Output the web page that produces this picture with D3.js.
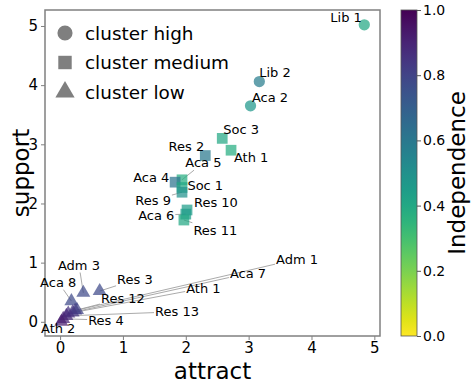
<!DOCTYPE html>
<html>
<head>
<meta charset="utf-8">
<script src="https://cdn.jsdelivr.net/npm/d3@7"></script>
<style>
  body { margin: 0; background: white; }
  text { font-family: "DejaVu Sans", sans-serif; fill: #000; }
</style>
</head>
<body>
<svg id="chart" width="474" height="387"></svg>
<script>
// ---- data ----
const names = ["Lib 1", "Lib 2", "Aca 2",
  "Soc 3", "Ath 1", "Res 2", "Aca 5", "Aca 4", "Soc 1", "Res 9", "Res 10", "Aca 6", "Res 11",
  "Adm 3", "Res 3", "Aca 8", "Res 12", "Adm 1", "Aca 7", "Ath 1", "Res 13", "Res 4", "Ath 2"];
const attract = [4.84, 3.17, 3.03,
  2.58, 2.72, 2.31, 1.94, 1.83, 1.94, 1.94, 2.02, 2.0, 1.97,
  0.37, 0.63, 0.18, 0.27, 0.24, 0.2, 0.13, 0.1, 0.05, 0.02];
const support = [5.02, 4.06, 3.65,
  3.1, 2.9, 2.81, 2.4, 2.36, 2.27, 2.19, 1.89, 1.82, 1.72,
  0.49, 0.52, 0.35, 0.2, 0.19, 0.16, 0.14, 0.1, 0.05, 0.0];
const independence = [0.4, 0.58, 0.47,
  0.4, 0.38, 0.6, 0.38, 0.62, 0.4, 0.5, 0.45, 0.45, 0.4,
  0.78, 0.78, 0.78, 0.8, 0.82, 0.84, 0.86, 0.88, 0.9, 0.92];
const cluster = ["high", "high", "high",
  "medium", "medium", "medium", "medium", "medium", "medium", "medium", "medium", "medium", "medium",
  "low", "low", "low", "low", "low", "low", "low", "low", "low", "low"];
// where the text labels sit, in data units
const labelX = [4.55, 3.42, 3.34,
  2.88, 3.04, 2.01, 2.28, 1.45, 2.31, 1.48, 2.48, 1.53, 2.47,
  0.30, 1.19, -0.03, 1.0, 3.77, 2.99, 2.28, 1.86, 0.73, -0.03];
const labelY = [5.15, 4.21, 3.79,
  3.25, 2.78, 2.96, 2.69, 2.44, 2.31, 2.05, 2.02, 1.80, 1.55,
  0.96, 0.71, 0.67, 0.40, 1.06, 0.82, 0.57, 0.17, 0.03, -0.12];

const legendNames = ["cluster high", "cluster medium", "cluster low"];
const legendShapes = ["high", "medium", "low"];
const xTicks = [0, 1, 2, 3, 4, 5];
const yTicks = [0, 1, 2, 3, 4, 5];
const cbTicks = [0, 0.2, 0.4, 0.6, 0.8, 1.0];

// ---- layout ----
const plot = { left: 45, right: 380, top: 10, bottom: 336 };
const cb = { left: 401, width: 16 };
const spineColor = "#808080";

const svg = d3.select("#chart");

const x = d3.scaleLinear().domain([-0.24, 5.09]).range([plot.left, plot.right]);
const y = d3.scaleLinear().domain([-0.24, 5.27]).range([plot.bottom, plot.top]);
const color = v => d3.interpolateViridis(1 - v);

const symbolFor = {
  high: d3.symbol().type(d3.symbolCircle).size(100),
  medium: d3.symbol().type(d3.symbolSquare).size(115),
  low: d3.symbol().type(d3.symbolTriangle).size(85)
};

// axes
const xAxis = svg.append("g")
  .attr("transform", `translate(0,${plot.bottom})`)
  .call(d3.axisBottom(x).tickValues(xTicks).tickFormat(d3.format("d")).tickSize(4).tickPadding(2));
const yAxis = svg.append("g")
  .attr("transform", `translate(${plot.left},0)`)
  .call(d3.axisLeft(y).tickValues(yTicks).tickFormat(d3.format("d")).tickSize(4).tickPadding(3));
[xAxis, yAxis].forEach(a => {
  a.select(".domain").remove();
  a.selectAll(".tick line").attr("stroke", spineColor).attr("stroke-width", 1);
  a.selectAll(".tick text").attr("font-size", 15).attr("font-family", "DejaVu Sans");
});

svg.append("rect")
  .attr("x", plot.left).attr("y", plot.top)
  .attr("width", plot.right - plot.left).attr("height", plot.bottom - plot.top)
  .attr("fill", "none").attr("stroke", spineColor).attr("stroke-width", 1.5);

svg.append("text")
  .attr("x", (plot.left + plot.right) / 2).attr("y", 379)
  .attr("text-anchor", "middle").style("font-size", "23px")
  .text("attract");
svg.append("text")
  .attr("transform", `translate(22,${(plot.top + plot.bottom) / 2}) rotate(-90)`)
  .attr("text-anchor", "middle").attr("dominant-baseline", "middle").style("font-size", "23px")
  .text("support");

// leader lines go under the points, labels on top
const lineG = svg.append("g");
const idx = d3.range(names.length);
const points = svg.append("g");
points.selectAll("path")
  .data(idx)
  .join("path")
  .attr("d", i => symbolFor[cluster[i]]())
  .attr("transform", i => `translate(${x(attract[i])},${y(support[i])})`)
  .attr("fill", i => color(independence[i]))
  .attr("fill-opacity", 0.72);

const labelG = svg.append("g");
idx.forEach(i => {
  const lx = x(labelX[i]), ly = y(labelY[i]);
  const t = labelG.append("text")
    .attr("x", lx).attr("y", ly)
    .attr("text-anchor", "middle").attr("dominant-baseline", "central")
    .style("font-size", "13px")
    .text(names[i]);
  const bb = t.node().getBBox();
  const px = x(attract[i]), py = y(support[i]);
  const pad = 7;
  const outside = px < bb.x - pad || px > bb.x + bb.width + pad ||
                  py < bb.y - pad || py > bb.y + bb.height + pad;
  if (!outside) return;
  // start the line at the edge of the text box
  const dx = px - lx, dy = py - ly;
  const hw = bb.width / 2 + 1, hh = bb.height / 2;
  const s = Math.min(dx !== 0 ? hw / Math.abs(dx) : Infinity, dy !== 0 ? hh / Math.abs(dy) : Infinity);
  lineG.append("line")
    .attr("x1", lx + dx * s).attr("y1", ly + dy * s)
    .attr("x2", px).attr("y2", py)
    .attr("stroke", "#a0a0a0").attr("stroke-width", 0.9);
});

// legend
const legend = svg.append("g");
legendNames.forEach((name, k) => {
  const ly = 33 + k * 29.5;
  legend.append("path")
    .attr("d", symbolFor[legendShapes[k]].size(legendShapes[k] === "low" ? 160 : 180)())
    .attr("transform", `translate(65,${ly})`)
    .attr("fill", "#7f7f7f");
  legend.append("text")
    .attr("x", 85).attr("y", ly)
    .attr("dominant-baseline", "central")
    .style("font-size", "18.4px")
    .text(name);
});

// colorbar
const cbScale = d3.scaleLinear().domain([0, 1]).range([plot.bottom, plot.top]);
const defs = svg.append("defs");
const grad = defs.append("linearGradient")
  .attr("id", "cbgrad").attr("x1", 0).attr("y1", 1).attr("x2", 0).attr("y2", 0);
d3.range(0, 1.0001, 0.05).forEach(v => {
  grad.append("stop").attr("offset", v).attr("stop-color", color(v));
});
svg.append("rect")
  .attr("x", cb.left).attr("y", plot.top)
  .attr("width", cb.width).attr("height", plot.bottom - plot.top)
  .attr("fill", "url(#cbgrad)")
  .attr("stroke", "#555").attr("stroke-width", 0.8);
const cbAxis = svg.append("g")
  .attr("transform", `translate(${cb.left + cb.width},0)`)
  .call(d3.axisRight(cbScale).tickValues(cbTicks).tickFormat(d3.format(".1f")).tickSize(4).tickPadding(2));
cbAxis.select(".domain").remove();
cbAxis.selectAll(".tick line").attr("stroke", "#555");
cbAxis.selectAll(".tick text").attr("font-size", 14).attr("font-family", "DejaVu Sans");

svg.append("text")
  .attr("transform", `translate(457,${(plot.top + plot.bottom) / 2}) rotate(-90)`)
  .attr("text-anchor", "middle").attr("dominant-baseline", "central")
  .style("font-size", "23px")
  .text("Independence");
</script>
</body>
</html>
